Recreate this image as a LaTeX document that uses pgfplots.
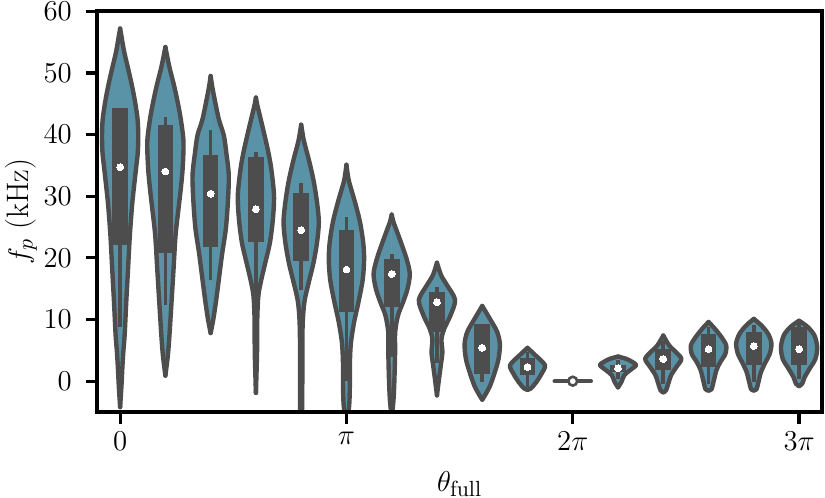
\documentclass[border=0pt]{standalone}
\usepackage{pgfplots}
\pgfplotsset{compat=1.18}
\usepackage{pgfplotstable}
\definecolor{vfill}{RGB}{90,147,168}
\definecolor{vgray}{RGB}{77,77,77}

% violin outlines: v = value (kHz), hw = half width (in category units)
\pgfplotstableread{
v hw
57.2 0
55.5 0.04
53.4 0.09
50.6 0.18
48.0 0.26
45.3 0.33
42.5 0.385
39.9 0.40
37.1 0.39
34.4 0.35
29.0 0.27
23.7 0.215
18.2 0.175
12.8 0.135
7.5 0.10
4.7 0.07
2.0 0.048
-0.7 0.03
-4.2 0
}\vA
\pgfplotstableread{
v hw
54.2 0
52.5 0.045
50.6 0.10
48.0 0.19
45.3 0.27
42.5 0.34
38.8 0.40
34.4 0.38
31.2 0.34
28.0 0.29
23.7 0.225
18.2 0.18
12.8 0.135
7.5 0.09
4.2 0.055
0.9 0
}\vB
\pgfplotstableread{
v hw
49.5 0
48.0 0.03
46.4 0.07
42.5 0.18
39.9 0.29
37.1 0.345
33.4 0.40
29.0 0.38
24.7 0.335
21.0 0.26
18.2 0.21
15.6 0.165
12.8 0.115
10.1 0.06
7.8 0
}\vC
\pgfplotstableread{
v hw
46.0 0
44.8 0.03
43.7 0.066
39.9 0.19
37.1 0.275
34.4 0.34
30.1 0.40
26.3 0.375
22.5 0.31
19.3 0.21
16.5 0.12
13.9 0.055
10.1 0.03
4.7 0.025
-1.9 0
}\vD
\pgfplotstableread{
v hw
41.6 0
40.2 0.03
38.8 0.066
35.6 0.18
32.3 0.28
29.0 0.35
25.8 0.39
22.5 0.35
19.3 0.275
16.1 0.17
12.8 0.07
8.5 0.03
0.0 0.025
-6.0 0.02
-7.0 0
}\vE
\pgfplotstableread{
v hw
35.1 0
33.7 0.025
32.3 0.06
29.0 0.19
25.8 0.30
22.5 0.37
19.8 0.39
16.5 0.36
12.8 0.265
9.6 0.17
6.3 0.10
3.1 0.077
-0.7 0.075
-4.0 0.06
-7.0 0
}\vF
\pgfplotstableread{
v hw
27.0 0
25.8 0.04
24.7 0.095
22.5 0.205
19.8 0.33
17.4 0.40
15.0 0.35
12.8 0.25
10.7 0.14
8.0 0.077
4.7 0.075
0.3 0.06
-3.0 0.04
-6.0 0
}\vG
\pgfplotstableread{
v hw
19.2 0
17.2 0.09
15.6 0.22
13.2 0.40
10.7 0.30
8.5 0.16
6.8 0.10
4.7 0.12
2.6 0.085
-0.2 0.035
-2.3 0
}\vH
\pgfplotstableread{
v hw
12.2 0
10.1 0.17
8.0 0.33
6.0 0.39
3.6 0.36
1.5 0.28
-0.7 0.175
-2.3 0.06
-3.0 0
}\vI
\pgfplotstableread{
v hw
5.4 0
4.2 0.175
2.6 0.385
1.2 0.31
-0.2 0.19
-1.2 0.07
-1.4 0
}\vJ
\pgfplotstableread{
v hw
4.0 0
3.6 0.19
3.1 0.32
2.6 0.40
1.8 0.27
1.0 0.14
-0.1 0.077
-1.0 0
}\vL
\pgfplotstableread{
v hw
7.4 0
5.8 0.13
4.7 0.28
3.6 0.40
2.3 0.29
1.0 0.175
-0.4 0.11
-1.5 0.06
-1.8 0
}\vM
\pgfplotstableread{
v hw
9.6 0
8.5 0.14
7.1 0.29
5.8 0.39
4.4 0.37
3.1 0.26
1.8 0.175
0.2 0.12
-1.3 0.066
-1.5 0
}\vN
\pgfplotstableread{
v hw
10.1 0
9.1 0.16
7.7 0.315
6.1 0.39
4.4 0.35
3.1 0.26
1.5 0.16
-0.2 0.10
-1.3 0.06
-1.5 0
}\vO
\pgfplotstableread{
v hw
9.8 0
8.8 0.19
7.4 0.34
5.5 0.40
3.6 0.36
2.0 0.23
0.6 0.12
-0.4 0.07
-0.8 0
}\vP

\tikzset{vout/.style={draw=vgray, line width=2.2pt, smooth, line cap=round, line join=round},
         vin/.style={fill=vfill, draw=vfill, line width=0.4pt, smooth}}
\newcommand\violin[2]{%
  \addplot[vin] table[x expr=#2+\thisrow{hw}, y=v]{#1} -- cycle;
  \addplot[vin] table[x expr=#2-\thisrow{hw}, y=v]{#1} -- cycle;
  \addplot[vout] table[x expr=#2+\thisrow{hw}, y=v]{#1};
  \addplot[vout] table[x expr=#2-\thisrow{hw}, y=v]{#1};
}
% c, whisker low, q1, median, q3, whisker high
\newcommand\vstats[6]{%
  \addplot[vgray, line width=1.8pt] coordinates {(#1,#2) (#1,#6)};
  \addplot[vgray, line width=7.8pt] coordinates {(#1,#3) (#1,#5)};
  \addplot[only marks, mark=*, mark size=1.7pt, mark options={fill=white, draw=white, line width=0pt}] coordinates {(#1,#4)};
}

\begin{document}
\begin{tikzpicture}
\path[use as bounding box] (-48.75pt,-43pt) rectangle (363.75pt,206pt);
\begin{axis}[
  axis on top,
  scale only axis, width=362.1pt, height=200.35pt,
  xmin=-0.5, xmax=15.5, ymin=-5, ymax=60,
  xtick={0,5,10,15}, xticklabels={$0$,$\pi$,$2\pi$,$3\pi$},
  ytick={0,10,20,30,40,50,60},
  xtick pos=bottom, ytick pos=left,
  tick align=outside, major tick length=5.8pt,
  every tick/.style={black, line width=1.6pt},
  axis line style={line width=2pt},
  tick label style={font=\fontsize{14.5}{17}\selectfont},
  yticklabel style={xshift=-3.5pt},
  xticklabel style={yshift=-0.5pt},
  xlabel={$\theta_{\mathrm{full}}$}, ylabel={$f_p$ (kHz)},
  every axis x label/.style={at={(axis description cs:0.5,0)}, anchor=center, yshift=-36pt, font=\fontsize{15.5}{18}\selectfont},
  every axis y label/.style={at={(axis description cs:-0.1056,0.5)}, anchor=center, rotate=90, font=\fontsize{15.5}{18}\selectfont},
]
\violin{\vA}{0}
\violin{\vB}{1}
\violin{\vC}{2}
\violin{\vD}{3}
\violin{\vE}{4}
\violin{\vF}{5}
\violin{\vG}{6}
\violin{\vH}{7}
\violin{\vI}{8}
\violin{\vJ}{9}
\violin{\vL}{11}
\violin{\vM}{12}
\violin{\vN}{13}
\violin{\vO}{14}
\violin{\vP}{15}
\addplot[vgray, line width=2.2pt, line cap=round] coordinates {(9.6,0) (10.4,0)};
\vstats{0}{8.8}{22.1}{34.7}{44.3}{44.3}
\vstats{1}{12.3}{20.8}{34.0}{41.5}{42.9}
\vstats{2}{16.4}{21.7}{30.4}{36.7}{40.8}
\vstats{3}{13.0}{22.5}{27.9}{36.4}{37.2}
\vstats{4}{14.8}{19.5}{24.5}{30.6}{32.1}
\vstats{5}{0.0}{11.3}{18.1}{24.6}{26.7}
\vstats{6}{4.0}{12.0}{17.4}{19.8}{20.7}
\vstats{7}{3.0}{8.0}{12.8}{14.5}{15.3}
\vstats{8}{-0.1}{1.2}{5.4}{9.3}{9.3}
\vstats{9}{-1.0}{1.0}{2.3}{3.8}{4.8}
\vstats{11}{0.3}{1.5}{2.1}{2.6}{3.5}
\vstats{12}{-0.4}{1.8}{3.6}{5.2}{6.5}
\vstats{13}{-0.5}{2.3}{5.2}{7.7}{8.8}
\vstats{14}{-0.2}{2.6}{5.7}{8.0}{9.1}
\vstats{15}{0.3}{2.6}{5.2}{8.8}{9.5}
\addplot[only marks, mark=*, mark size=2.2pt, mark options={fill=white, draw=vgray, line width=1.3pt}] coordinates {(10,0)};
\end{axis}
\end{tikzpicture}
\end{document}
